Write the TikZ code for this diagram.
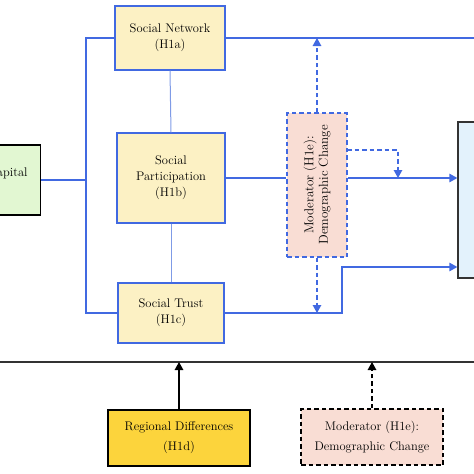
\documentclass[tikz,border=0pt]{standalone}
\usetikzlibrary{arrows.meta}
\definecolor{lblue}{HTML}{4169E1}
\definecolor{thinblue}{HTML}{7F9BE6}
\definecolor{yfill}{HTML}{FCF1C4}
\definecolor{gfill}{HTML}{E2F7D2}
\definecolor{bfill}{HTML}{E3F2FC}
\definecolor{pfill}{HTML}{F9DDD4}
\definecolor{gold}{HTML}{FCD43C}
\definecolor{darkline}{HTML}{333333}
\tikzset{
  x=1pt, y=-1pt,
  box/.style={draw=lblue, line width=1.3pt, fill=yfill, align=center, inner sep=0pt, font=\fontsize{12.5}{16}\selectfont},
  conn/.style={draw=lblue, line width=1.3pt},
  thinconn/.style={draw=thinblue, line width=1pt},
  arr/.style={-{Triangle[length=8pt,width=8.5pt]}},
  dsh/.style={dash pattern=on 4.5pt off 3pt},
}
\begin{document}
\begin{tikzpicture}
\useasboundingbox (0,0) rectangle (474,474);
\clip (0,0) rectangle (474,474);
% boxes
\node[box, draw=black, fill=gfill, minimum width=101pt, minimum height=70pt] (cap) at (-10,180) {Social Capital\\ \phantom{x}};
\node[box, draw=darkline, fill=bfill, minimum width=72pt, minimum height=156pt] (out) at (494,200) {};
\node[box, minimum width=110pt, minimum height=64pt] (sn) at (170,38) {Social Network\\(H1a)};
\node[box, minimum width=108pt, minimum height=90pt] (sp) at (171,178) {Social\\Participation\\(H1b)};
\node[box, minimum width=106pt, minimum height=60pt] (st) at (171,313) {Social Trust\\(H1c)};
\node[box, dsh, fill=pfill, minimum width=60pt, minimum height=144pt] (mod) at (317,185) {};
\node[rotate=90, align=center, font=\fontsize{13}{14.5}\selectfont] (modt) at (mod.center) {Moderator (H1e):\\Demographic Change};
\node[box, draw=black, fill=gold, minimum width=142pt, minimum height=56pt, font=\fontsize{12.5}{20}\selectfont] (rd) at (179,438) {Regional Differences\\(H1d)};
\node[box, draw=black, dsh, fill=pfill, minimum width=142pt, minimum height=56pt, font=\fontsize{12.5}{20}\selectfont] (mod2) at (372,437) {Moderator (H1e):\\Demographic Change};
% coordinates
\coordinate (vt) at (86,38);
\coordinate (vb) at (86,313);
\coordinate (topend) at (474,38);
\coordinate (hl) at (0,362);
\coordinate (hr) at (474,362);
\coordinate (dm1) at (347,150);
\coordinate (dm2) at (398,150);
\coordinate (tb1) at (342,313);
\coordinate (tb2) at (342,267);
% connectors
\draw[conn] (cap.east) -- (cap.east -| vt);
\draw[conn] (sn.west) -- (vt) -- (vb) -- (st.west);
\draw[thinconn] (sn.south) -- (sp.north);
\draw[thinconn] (sp.south) -- (st.north);
\draw[conn] (sn.east) -- (topend);
\draw[conn, dsh, arr] (mod.north) -- (mod.north |- sn.east);
\draw[conn] (sp.east) -- (sp.east -| mod.west);
\draw[conn, arr] (sp.east -| mod.east) -- (sp.east -| out.west);
\draw[conn, dsh, arr] (dm1) -- (dm2) -- (dm2 |- sp.east);
\draw[conn, dsh, arr] (mod.south) -- (mod.south |- st.east);
\draw[conn, arr] (st.east) -- (tb1) -- (tb2) -- (tb2 -| out.west);
\draw[darkline, line width=1.3pt] (hl) -- (hr);
\draw[black, line width=1.3pt, arr] (rd.north) -- (rd.north |- hl);
\draw[black, line width=1.3pt, dsh, arr] (mod2.north) -- (mod2.north |- hl);
\end{tikzpicture}
\end{document}
